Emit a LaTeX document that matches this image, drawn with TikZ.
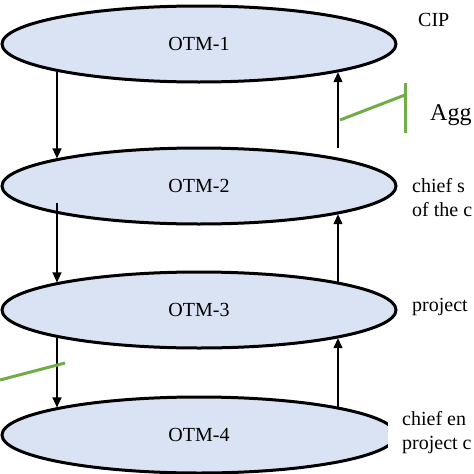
\documentclass[tikz,border=0pt]{standalone}
\usepackage{fontspec}
\setmainfont{Liberation Serif}
\usetikzlibrary{arrows.meta,shapes.geometric,calc}
\definecolor{ellfill}{HTML}{DAE3F3}
\definecolor{callgreen}{HTML}{70AD47}
\tikzset{
  otm/.style={ellipse, draw=black, line width=3pt, fill=ellfill, minimum width=394pt, minimum height=76pt, inner sep=0pt, font=\fontsize{20}{24}\selectfont},
  flow/.style={line width=1.3pt, -{Triangle[length=10pt,width=9pt]}},
  lbl/.style={inner sep=0pt, align=left, font=\fontsize{20}{24}\selectfont},
  callout/.style={callgreen, line width=3pt}
}
\begin{document}
\begin{tikzpicture}[x=1pt,y=-1pt]
\useasboundingbox (0,0) rectangle (474,474);
\node[otm] (e1) at (199,44) {OTM-1};
\node[otm] (e2) at (199,186) {OTM-2};
\node[otm] (e3) at (199,310) {OTM-3};
\node[otm] (e4) at (199,435) {OTM-4};
% left downward arrows
\draw[flow] ($(e1.center)+(-142,27.6)$) -- ($(e2.center)+(-142,-27.6)$);
\draw[flow] ($(e2.center)+(-142,17)$) -- ($(e3.center)+(-142,-27.6)$);
\draw[flow] ($(e3.center)+(-142,27.6)$) -- ($(e4.center)+(-142,-27.6)$);
% right upward arrows
\draw[flow] ($(e2.center)+(139,-38)$) -- ($(e1.center)+(139,28.2)$);
\draw[flow] ($(e3.center)+(139,-28.2)$) -- ($(e2.center)+(139,28.2)$);
\draw[flow] ($(e4.center)+(139,-28.2)$) -- ($(e3.center)+(139,28.2)$);
% green callouts
\coordinate (g1a) at (340,120);
\coordinate (g1b) at (405,95);
\coordinate (g1t) at (405,83);
\coordinate (g1u) at (405,133);
\draw[callout] (g1a) -- (g1b);
\draw[callout] (g1t) -- (g1u);
\coordinate (g2a) at (0,380);
\coordinate (g2b) at (65,363);
\draw[callout] (g2a) -- (g2b);
% labels
\node[lbl, anchor=base west] (cip) at (418,26) {CIP};
\node[lbl, anchor=base west, font=\fontsize{24}{28}\selectfont] (agg) at (430,120) {Agg};
\node[lbl, anchor=north west] (l2) at (412,178.3) {chief s\\of the c};
\node[lbl, anchor=base west] (l3) at (412,311) {project};
\node[lbl, anchor=north west, fill=white, inner xsep=14pt, inner ysep=1pt] (l4) at (388,410) {chief en\\project c};
\end{tikzpicture}
\end{document}
